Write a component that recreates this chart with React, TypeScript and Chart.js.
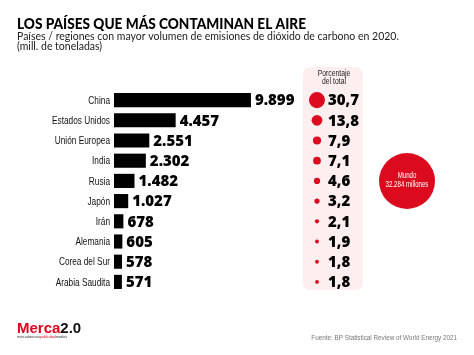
import React, { useEffect, useRef } from "react";
import { Chart, registerables } from "chart.js";

Chart.register(...registerables);

const categories = [
  "China",
  "Estados Unidos",
  "Unión Europea",
  "India",
  "Rusia",
  "Japón",
  "Irán",
  "Alemania",
  "Corea del Sur",
  "Arabia Saudita",
];
const emissions = [9899, 4457, 2551, 2302, 1482, 1027, 678, 605, 578, 571];
const sharePct = [30.7, 13.8, 7.9, 7.1, 4.6, 3.2, 2.1, 1.9, 1.8, 1.8];
const worldTotalLabel = ["Mundo", "32.284 millones"];
const titleText = "LOS PAÍSES QUE MÁS CONTAMINAN EL AIRE";
const subtitleLines = [
  "Países / regiones con mayor volumen de emisiones de dióxido de carbono en 2020.",
  "(mill. de toneladas)",
];
const columnHeader = ["Porcentaje", "del total"];
const sourceText = "Fuente: BP Statistical Review of World Energy 2021";

const RED = "#dc0a1e";
const NARROW = "'Liberation Sans', Arial, sans-serif";

function fmtThousands(v: number): string {
  const s = String(Math.round(v));
  return s.replace(/\B(?=(\d{3})+(?!\d))/g, ".");
}
function fmtPct(v: number): string {
  return v.toFixed(1).replace(".", ",");
}

function drawCondensed(
  ctx: CanvasRenderingContext2D,
  text: string,
  x: number,
  y: number,
  sx: number,
  align: CanvasTextAlign
) {
  ctx.save();
  ctx.translate(x, y);
  ctx.scale(sx, 1);
  ctx.textAlign = align;
  ctx.fillText(text, 0, 0);
  ctx.restore();
}

const decorPlugin = {
  id: "decor",
  beforeDatasetsDraw(chart: any) {
    const ctx = chart.ctx;
    ctx.save();
    // pink column
    ctx.fillStyle = "#fdeef0";
    ctx.beginPath();
    (ctx as any).roundRect(303, 67, 60, 223, 7);
    ctx.fill();
    ctx.fillStyle = "#222";
    ctx.font = "9.5px " + NARROW;
    ctx.textBaseline = "middle";
    drawCondensed(ctx, columnHeader[0], 334, 73, 0.72, "center");
    drawCondensed(ctx, columnHeader[1], 334, 81.5, 0.72, "center");

    // category labels (condensed), positioned by the y scale
    const yScale = chart.scales.y;
    ctx.fillStyle = "#111";
    ctx.font = "11.5px " + NARROW;
    categories.forEach((c, i) => {
      drawCondensed(ctx, c, 110, yScale.getPixelForValue(i) + 0.5, 0.72, "right");
    });
    ctx.restore();
  },
  afterDatasetsDraw(chart: any) {
    const ctx = chart.ctx;
    const meta = chart.getDatasetMeta(0);
    ctx.save();
    // value labels
    ctx.fillStyle = "#000";
    ctx.font = "800 15px 'Open Sans', sans-serif";
    ctx.textAlign = "left";
    ctx.textBaseline = "middle";
    meta.data.forEach((bar: any, i: number) => {
      ctx.fillText(fmtThousands(emissions[i]), bar.x + 4, bar.y + 1);
    });
    // percentage bubbles
    meta.data.forEach((bar: any, i: number) => {
      const r = 1.45 * Math.sqrt(sharePct[i]);
      ctx.fillStyle = RED;
      ctx.beginPath();
      ctx.arc(317, bar.y, r, 0, Math.PI * 2);
      ctx.fill();
      ctx.fillStyle = "#000";
      ctx.fillText(fmtPct(sharePct[i]), 328, bar.y + 1);
    });
    // world circle
    ctx.fillStyle = RED;
    ctx.beginPath();
    ctx.arc(407, 181, 28, 0, Math.PI * 2);
    ctx.fill();
    ctx.fillStyle = "#fff";
    ctx.font = "9px " + NARROW;
    drawCondensed(ctx, worldTotalLabel[0], 407, 176, 0.68, "center");
    drawCondensed(ctx, worldTotalLabel[1], 407, 185, 0.68, "center");

    // title
    ctx.textBaseline = "alphabetic";
    ctx.fillStyle = "#000";
    ctx.font = "900 15px Lato, sans-serif";
    drawCondensed(ctx, titleText, 17, 29, 0.91, "left");
    ctx.fillStyle = "#222";
    ctx.font = "10.5px Lato, sans-serif";
    ctx.textAlign = "left";
    ctx.fillText(subtitleLines[0], 17, 40);
    ctx.fillText(subtitleLines[1], 17, 50);

    // logo
    ctx.font = "bold 15px 'Liberation Sans', Arial, sans-serif";
    ctx.fillStyle = "#e2001a";
    ctx.fillText("Merca", 17, 333);
    const w = ctx.measureText("Merca").width;
    ctx.fillStyle = "#111";
    ctx.fillText("2.0", 17 + w, 333);
    ctx.font = "3.5px 'Liberation Sans', sans-serif";
    ctx.fillStyle = "#333";
    ctx.fillText("mercadotecnia", 17, 338);
    const w1 = ctx.measureText("mercadotecnia").width;
    ctx.fillStyle = "#e2001a";
    ctx.fillText("publicidad", 17 + w1, 338);
    const w2 = ctx.measureText("publicidad").width;
    ctx.fillStyle = "#333";
    ctx.fillText("medios", 17 + w1 + w2, 338);

    // source
    ctx.fillStyle = "#777";
    ctx.font = "8px " + NARROW;
    drawCondensed(ctx, sourceText, 457, 340, 0.79, "right");
    ctx.restore();
  },
};

export default function App() {
  const ref = useRef<HTMLCanvasElement | null>(null);
  useEffect(() => {
    if (!ref.current) return;
    const chart = new Chart(ref.current, {
      type: "bar",
      data: {
        labels: categories,
        datasets: [
          {
            data: emissions,
            backgroundColor: "#000",
            barPercentage: 0.7,
            categoryPercentage: 1,
          },
        ],
      },
      options: {
        indexAxis: "y",
        responsive: false,
        animation: false,
        layout: { padding: { left: 17, top: 90, bottom: 63, right: 194 } },
        plugins: {
          legend: { display: false },
          tooltip: { enabled: false },
        },
        scales: {
          x: { display: false, min: 0, max: 12000 },
          y: {
            afterFit: (scale: any) => {
              scale.width = 97;
            },
            grid: { display: false, drawTicks: false },
            border: { display: false },
            ticks: { display: false },
          },
        },
      },
      plugins: [decorPlugin],
    });
    return () => chart.destroy();
  }, []);
  return (
    <div style={{ position: "fixed", left: 0, top: 0, width: 474, height: 355, background: "#fff" }}>
      <canvas ref={ref} width={474} height={355} />
    </div>
  );
}
